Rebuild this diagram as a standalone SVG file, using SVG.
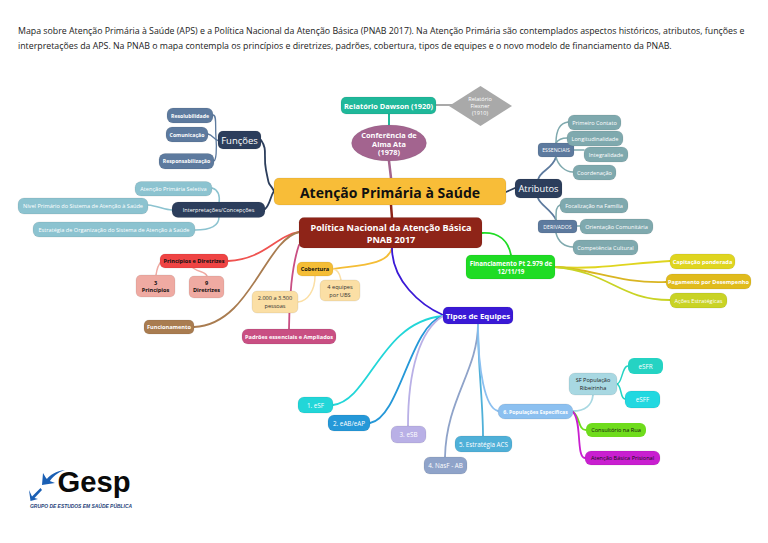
<svg xmlns="http://www.w3.org/2000/svg" width="768" height="543" viewBox="0 0 768 543">
<style>
text{font-family:"Open Sans","Noto Sans","DejaVu Sans",sans-serif;text-anchor:middle;dominant-baseline:central}
.n{stroke:#000;stroke-opacity:.1;stroke-width:.7}
.w{fill:#fff}.k{fill:#111}
.b{font-weight:700}
.s4{font-size:5.2px}.s5{font-size:5.6px}.s6{font-size:6.3px}.s7{font-size:7.4px}
#c path{fill:none;stroke-linecap:round}
.intro{text-anchor:start;font-size:8.8px;fill:#222;dominant-baseline:auto}
.logo{font-family:"Liberation Sans",sans-serif;dominant-baseline:auto;text-anchor:start;font-weight:700}
</style>
<rect width="768" height="543" fill="#fff"/>
<text class="intro" x="18" y="34">Mapa sobre Atenção Primária à Saúde (APS) e a Política Nacional da Atenção Básica (PNAB 2017). Na Atenção Primária são contemplados aspectos históricos, atributos, funções e</text>
<text class="intro" x="18" y="48.500">interpretações da APS. Na PNAB o mapa contempla os princípios e diretrizes, padrões, cobertura, tipos de equipes e o novo modelo de financiamento da PNAB.</text>

<g id="c">
<path d="M389 114V125" stroke="#1fb89a" stroke-width="2"/>
<path d="M436 105H452" stroke="#a9a9a9" stroke-width="2"/>
<path d="M389 161L391 178" stroke="#a3648f" stroke-width="2.5"/>
<path d="M391 205L392 218" stroke="#8e2418" stroke-width="2.5"/>
<path d="M274 191C268 180 270 190 266 170C263 155 268 150 261 140" stroke="#2c3e5c" stroke-width="1.8"/>
<path d="M274 191C270 197 270 205 265 209" stroke="#2c3e5c" stroke-width="1.8"/>
<path d="M213 115C217 115 215 125 216 138C217 150 216 160 214 161" stroke="#5d7a9e" stroke-width="1.3"/>
<path d="M208 134C213 135 214 140 219 141" stroke="#5d7a9e" stroke-width="1.3"/>
<path d="M212 188C219 190 220 197 219 204" stroke="#8cc3d0" stroke-width="1.5"/>
<path d="M148 205C158 206 165 210 172 210" stroke="#8cc3d0" stroke-width="1.5"/>
<path d="M195 230C210 230 219 226 219 217" stroke="#8cc3d0" stroke-width="1.5"/>
<path d="M506 192L515 188" stroke="#2c3e5c" stroke-width="1.8"/>
<path d="M538 180C540 170 552 170 556 157" stroke="#5d7a9e" stroke-width="1.8"/>
<path d="M538 198C540 205 552 210 556 220" stroke="#5d7a9e" stroke-width="1.8"/>
<path d="M556 143C556 130 560 123 568 122" stroke="#7fa9ae" stroke-width="1.5"/>
<path d="M556 143C558 140 562 138 567 138" stroke="#7fa9ae" stroke-width="1.5"/>
<path d="M574 150H584" stroke="#7fa9ae" stroke-width="1.5"/>
<path d="M556 157C558 165 565 172 573 172" stroke="#7fa9ae" stroke-width="1.5"/>
<path d="M556 220C556 210 556 207 560 205" stroke="#7fa9ae" stroke-width="1.5"/>
<path d="M577 226H580" stroke="#7fa9ae" stroke-width="1.5"/>
<path d="M556 233C558 242 565 247 573 247" stroke="#7fa9ae" stroke-width="1.5"/>
<path d="M299 232C275 236 265 259 228 261" stroke="#ef5350" stroke-width="1.8"/>
<path d="M299 232C265 240 250 325 194 327" stroke="#a97c50" stroke-width="1.8"/>
<path d="M299 245C292 265 289 300 289 329" stroke="#c94f83" stroke-width="1.8"/>
<path d="M392 248C388 265 360 265 333 269" stroke="#f4bd36" stroke-width="1.8"/>
<path d="M392 248C392 280 420 305 443 315" stroke="#3a19d6" stroke-width="1.8"/>
<path d="M482 233C498 232 508 240 511 255" stroke="#1fdc24" stroke-width="1.8"/>
<path d="M172 259C162 258 158 262 156 275" stroke="#efaaa2" stroke-width="1.5"/>
<path d="M193 268C200 273 205 271 207 276" stroke="#efaaa2" stroke-width="1.5"/>
<path d="M315 276C315 290 308 301 298 302" stroke="#fbdfa5" stroke-width="1.5"/>
<path d="M333 269C340 270 340 277 341 280" stroke="#fbdfa5" stroke-width="1.5"/>
<path d="M555 267C600 270 630 263 670 261" stroke="#dfd51f" stroke-width="1.8"/>
<path d="M555 267C590 268 620 284 666 282" stroke="#d9b522" stroke-width="1.8"/>
<path d="M555 267C610 272 620 300 670 300" stroke="#c9d325" stroke-width="1.8"/>
<path d="M443 316C380 322 370 400 333 405" stroke="#22d6d8" stroke-width="1.8"/>
<path d="M443 316C410 325 400 418 370 423" stroke="#2598d8" stroke-width="1.8"/>
<path d="M443 316C420 330 408 370 408 426" stroke="#b9b0e6" stroke-width="1.8"/>
<path d="M478 324C478 370 446 400 445 457" stroke="#8fa3c9" stroke-width="1.8"/>
<path d="M478 324C478 370 483 400 483 436" stroke="#4fb0d8" stroke-width="1.8"/>
<path d="M478 324C478 370 485 408 498 411" stroke="#8cc0f0" stroke-width="1.8"/>
<path d="M573 411C585 411 592 405 593 395" stroke="#a8d8e2" stroke-width="1.8"/>
<path d="M617 384C622 384 622 366 628 366" stroke="#25d3c3" stroke-width="1.5"/>
<path d="M617 384C622 386 620 399 625 399" stroke="#25d3c3" stroke-width="1.5"/>
<path d="M573 412C580 416 578 430 586 430" stroke="#6fdc1c" stroke-width="1.8"/>
<path d="M573 412C582 420 576 458 585 458" stroke="#c91fd0" stroke-width="1.8"/>
</g>

<g id="n-central"><rect class="n" x="274" y="178" width="232" height="27" rx="5" fill="#f8bd38"/><text class="k b" x="390" y="192" font-size="14">Atenção Primária à Saúde</text></g>
<g id="n-dawson"><rect class="n" x="341" y="97" width="95" height="17" rx="5" fill="#1fb89a"/><text class="w b" x="388.500" y="105.500" font-size="7.400">Relatório Dawson (1920)</text></g>
<g id="n-flexner"><polygon points="449,106 480.500,86 512,106 480.500,126" fill="#a9a9a9"/><text class="w s5" x="480" y="99">Relatório</text><text class="w s5" x="480" y="106">Flexner</text><text class="w s5" x="480" y="113">(1910)</text></g>
<g id="n-alma"><ellipse class="n" cx="389" cy="143" rx="37.500" ry="18" fill="#a3648f"/><text class="w b s7" x="389" y="135">Conferência de</text><text class="w b s7" x="389" y="143.500">Alma Ata</text><text class="w b s7" x="389" y="152">(1978)</text></g>
<g id="n-pnab"><rect class="n" x="299" y="217.500" width="183" height="30.500" rx="5" fill="#8e2418"/><text class="w b" x="391" y="227.500" font-size="9.100">Política Nacional da Atenção Básica</text><text class="w b" x="391" y="239" font-size="9.100">PNAB 2017</text></g>

<g id="n-funcoes"><rect class="n" x="218" y="131" width="43" height="18" rx="5" fill="#2c3e5c"/><text class="w" x="239.500" y="140.500" font-size="9.500">Funções</text></g>
<g id="n-resol"><rect class="n" x="167" y="108" width="46" height="15" rx="6" fill="#5d7a9e"/><text class="w b s4" x="190" y="115.500">Resolubilidade</text></g>
<g id="n-comun"><rect class="n" x="166" y="127" width="42" height="15" rx="6" fill="#5d7a9e"/><text class="w b s4" x="187" y="134.500">Comunicação</text></g>
<g id="n-resp"><rect class="n" x="159" y="153.500" width="55" height="15.500" rx="6" fill="#5d7a9e"/><text class="w b s4" x="186.500" y="161">Responsabilização</text></g>
<g id="n-interp"><rect class="n" x="172" y="202" width="93" height="15.500" rx="6" fill="#2c3e5c"/><text class="w s5" x="218.500" y="210">Interpretações/Concepções</text></g>
<g id="n-seletiva"><rect class="n" x="135" y="181.500" width="77" height="14.500" rx="6" fill="#8cc3d0"/><text class="w s5" x="173.500" y="189">Atenção Primária Seletiva</text></g>
<g id="n-nivel"><rect class="n" x="18" y="198" width="130" height="16" rx="6" fill="#8cc3d0"/><text class="w s5" x="83" y="206">Nível Primário do Sistema de Atenção à Saúde</text></g>
<g id="n-estrategia"><rect class="n" x="33" y="222" width="162" height="15" rx="6" fill="#8cc3d0"/><text class="w s5" x="114" y="229.500">Estratégia de Organização do Sistema de Atenção à Saúde</text></g>

<g id="n-atributos"><rect class="n" x="515" y="179" width="47" height="19" rx="5" fill="#2c3e5c"/><text class="w" x="538.500" y="188.500" font-size="9.300">Atributos</text></g>
<g id="n-essenciais"><rect class="n" x="538" y="143" width="36" height="14" rx="4" fill="#5d7a9e"/><text class="w s4" x="556" y="150">ESSENCIAIS</text></g>
<g id="n-derivados"><rect class="n" x="538" y="220" width="39" height="13" rx="4" fill="#5d7a9e"/><text class="w s4" x="557.500" y="226.500">DERIVADOS</text></g>
<g id="n-primeiro"><rect class="n" x="568" y="115" width="53" height="15" rx="6" fill="#7fa9ae"/><text class="w s5" x="594.500" y="122.500">Primeiro Contato</text></g>
<g id="n-longi"><rect class="n" x="567" y="131" width="56" height="15" rx="6" fill="#7fa9ae"/><text class="w s5" x="595" y="138.500">Longitudinalidade</text></g>
<g id="n-integ"><rect class="n" x="584" y="147" width="44" height="15" rx="6" fill="#7fa9ae"/><text class="w s5" x="606" y="154.500">Integralidade</text></g>
<g id="n-coord"><rect class="n" x="573" y="165" width="43" height="15" rx="6" fill="#7fa9ae"/><text class="w s5" x="594.500" y="172.500">Coordenação</text></g>
<g id="n-focal"><rect class="n" x="560" y="198" width="68" height="15" rx="6" fill="#7fa9ae"/><text class="w s5" x="594" y="205.500">Focalização na Família</text></g>
<g id="n-orient"><rect class="n" x="580" y="219" width="73" height="15" rx="6" fill="#7fa9ae"/><text class="w s5" x="616.500" y="226.500">Orientação Comunitária</text></g>
<g id="n-compet"><rect class="n" x="573" y="240" width="65" height="15" rx="6" fill="#7fa9ae"/><text class="w s5" x="605.500" y="247.500">Competência Cultural</text></g>

<g id="n-principios"><rect class="n" x="160" y="254" width="68" height="14" rx="5" fill="#ef4444"/><text class="k b s5" x="194" y="261">Princípios e Diretrizes</text></g>
<g id="n-3p"><rect class="n" x="136" y="275" width="39" height="22" rx="5" fill="#efaaa2"/><text class="k b s5" x="155.500" y="283">3</text><text class="k b s5" x="155.500" y="290">Princípios</text></g>
<g id="n-9d"><rect class="n" x="189" y="276" width="35" height="22" rx="5" fill="#efaaa2"/><text class="k b s5" x="206.500" y="283">9</text><text class="k b s5" x="206.500" y="290">Diretrizes</text></g>
<g id="n-func"><rect class="n" x="144" y="320" width="50" height="14" rx="5" fill="#a97c50"/><text class="w b s5" x="169" y="327">Funcionamento</text></g>
<g id="n-cob"><rect class="n" x="297" y="262" width="36" height="14" rx="5" fill="#f4bd36"/><text class="k b s5" x="315" y="269">Cobertura</text></g>
<g id="n-pop"><rect class="n" x="252" y="291" width="46" height="22" rx="5" fill="#fbdfa5"/><text class="s5" fill="#333" x="275" y="298">2.000 a 3.500</text><text class="s5" fill="#333" x="275" y="305.500">pessoas</text></g>
<g id="n-4eq"><rect class="n" x="320" y="280" width="40" height="21" rx="5" fill="#fbdfa5"/><text class="s5" fill="#333" x="340" y="287">4 equipes</text><text class="s5" fill="#333" x="340" y="294.500">por UBS</text></g>
<g id="n-padroes"><rect class="n" x="242" y="329" width="94" height="15" rx="6" fill="#c94f83"/><text class="w b s5" x="289" y="336.500">Padrões essenciais e Ampliados</text></g>

<g id="n-fin"><rect class="n" x="466" y="255" width="89" height="24" rx="5" fill="#1fdc24"/><text class="w b s6" x="511" y="263.500">Financiamento Pt 2.979 de</text><text class="w b s6" x="511" y="271">12/11/19</text></g>
<g id="n-cap"><rect class="n" x="670" y="254" width="65" height="15" rx="6" fill="#dfd51f"/><text class="w b s5" x="702.500" y="261.500">Capitação ponderada</text></g>
<g id="n-pag"><rect class="n" x="666" y="274" width="85" height="15" rx="6" fill="#e0bb1c"/><text class="w b s5" x="708.500" y="281.500">Pagamento por Desempenho</text></g>
<g id="n-acoes"><rect class="n" x="670" y="293" width="57" height="15" rx="6" fill="#c9d325"/><text class="w s5" x="698.500" y="300.500">Ações Estratégicas</text></g>

<g id="n-tipos"><rect class="n" x="443" y="307" width="70" height="17" rx="5" fill="#3a19d6"/><text class="w b" x="478" y="315.500" font-size="7.800">Tipos de Equipes</text></g>
<g id="n-esf"><rect class="n" x="298" y="397" width="35" height="16" rx="6" fill="#22d6d8"/><text class="w s6" x="315.500" y="405">1. eSF</text></g>
<g id="n-eab"><rect class="n" x="328" y="415" width="42" height="16" rx="6" fill="#2598d8"/><text class="w s6" x="349" y="423">2. eAB/eAP</text></g>
<g id="n-esb"><rect class="n" x="391" y="426" width="35" height="17" rx="6" fill="#b9b0e6"/><text class="w s6" x="408.500" y="434.500">3. eSB</text></g>
<g id="n-nasf"><rect class="n" x="424" y="457" width="43" height="17" rx="6" fill="#8fa3c9"/><text class="w s6" x="445.500" y="465.500">4. NasF - AB</text></g>
<g id="n-acs"><rect class="n" x="455" y="436" width="57" height="16" rx="6" fill="#4fb0d8"/><text class="w s6" x="483.500" y="444">5. Estratégia ACS</text></g>
<g id="n-popesp"><rect class="n" x="498" y="404" width="75" height="15" rx="7" fill="#8cc0f0"/><text class="w b s4" x="535.500" y="411.500">6. Populações Específicas</text></g>
<g id="n-sf"><rect class="n" x="569" y="373" width="48" height="22" rx="6" fill="#a8d8e2"/><text class="s5" fill="#222" x="593" y="380">SF População</text><text class="s5" fill="#222" x="593" y="388">Ribeirinha</text></g>
<g id="n-esfr"><rect x="628" y="358" width="35" height="16" rx="6" fill="#25d3c3"/><text class="w s6" x="645.500" y="366">eSFR</text></g>
<g id="n-esff"><rect class="n" x="625" y="391" width="35" height="17" rx="6" fill="#22d8e0"/><text class="w s6" x="642.500" y="399.500">eSFF</text></g>
<g id="n-rua"><rect x="586" y="423" width="60" height="14" rx="6" fill="#6fdc1c"/><text class="k s5" x="616" y="430">Consultório na Rua</text></g>
<g id="n-prisional"><rect class="n" x="585" y="451" width="75" height="14" rx="6" fill="#c91fd0"/><text class="k s5" x="622.500" y="458">Atenção Básica Prisional</text></g>

<g id="logo">
<path d="M65 470C56 471 50 475 46.500 479.500L49 482.500C52 477 58 472 65 470Z" fill="#1a5fb4"/>
<path d="M42 485L43 473L46 478L48.500 480.500L55 483Z" fill="#1a5fb4"/>
<path d="M40.500 488L32 496.500L29 490L30.500 501L38 499L34.500 498L42 490Z" fill="#1a5fb4"/>
<text class="logo" x="57.500" y="492" font-size="29" fill="#0a0a0a" textLength="73" lengthAdjust="spacingAndGlyphs">Gesp</text>
<text class="logo" x="30" y="507.500" font-size="4.800" font-style="italic" fill="#1f3f7a" textLength="102" lengthAdjust="spacingAndGlyphs">GRUPO DE ESTUDOS EM SAÚDE PÚBLICA</text>
</g>
</svg>
